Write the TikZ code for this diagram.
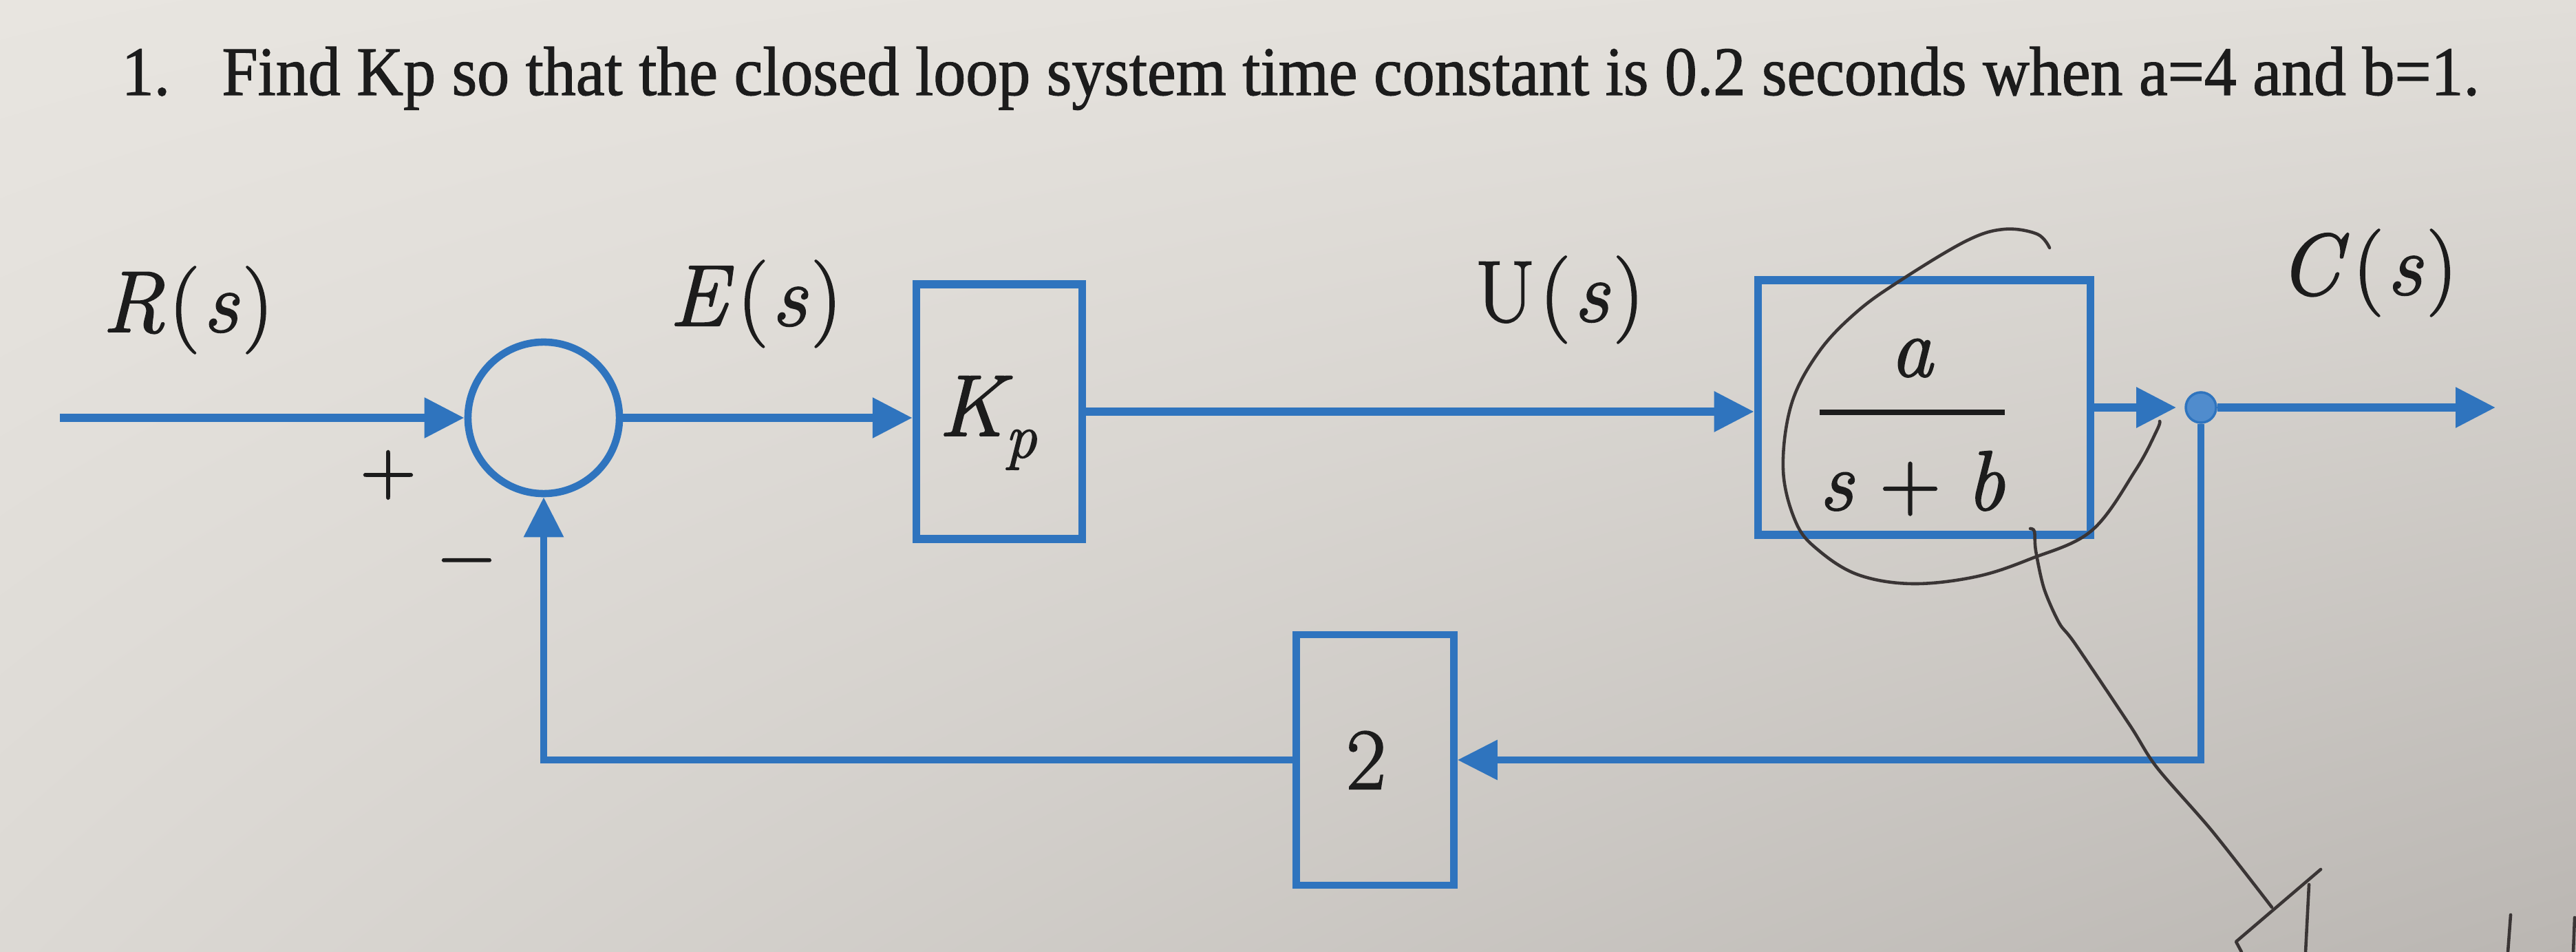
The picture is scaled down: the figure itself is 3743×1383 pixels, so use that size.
\RequirePackage{fix-cm}
\documentclass[tikz,border=0pt]{standalone}
\usepackage{fontspec}
\setmainfont{Liberation Serif}
\newfontfamily\titlefont[FakeBold=1.2]{Liberation Serif}
\newfontfamily\labfont[FakeBold=1.6]{Latin Modern Roman}
\usepackage{graphicx}
\usetikzlibrary{arrows.meta,shadings}
\newcommand\itl[1]{{\itshape #1\/}}
\newcommand\sigl[2]{#1\kern0.05em(\kern0.04em\itl{#2}\kern0.04em)}
\definecolor{blu}{RGB}{47,116,190}
\definecolor{dotc}{RGB}{80,140,205}
\definecolor{ink}{RGB}{28,28,28}
\definecolor{penc}{RGB}{58,53,53}
\definecolor{bgTL}{RGB}{232,229,224}
\definecolor{bgTR}{RGB}{225,222,217}
\definecolor{bgBL}{RGB}{220,217,212}
\definecolor{bgBR}{RGB}{186,182,178}
\begin{document}
\begin{tikzpicture}[x=0.01cm,y=-0.01cm,
  sig/.style={draw=blu, line width=3.4pt},
  fbk/.style={draw=blu, line width=2.8pt},
  arr/.style={-{Triangle[length=0.58cm,width=0.56cm]}},
  blockbox/.style={draw=blu, line width=3.2pt, inner sep=0pt, rectangle},
  lab/.style={font=\labfont\fontsize{36}{42}\selectfont, text=ink, inner sep=0pt},
  pen/.style={draw=penc, line width=1.3pt, line cap=round, line join=round}]
\useasboundingbox (0,0) rectangle (3743,1383);
\shade[upper left=bgTL, upper right=bgTR, lower left=bgBL, lower right=bgBR] (0,0) rectangle (3743,1383);

% title
\node[anchor=base west, inner sep=0pt, text=ink] (title) at (176,138)
  {\resizebox{34.24cm}{0.70cm}{\titlefont\fontsize{29}{34}\selectfont 1.\hspace{0.8em}Find Kp so that the closed loop system time constant is 0.2 seconds when a=4 and b=1.}};

% blocks
\node[circle, draw=blu, line width=3pt, minimum size=2.2cm, inner sep=0pt] (sum) at (790,607) {};
\node[blockbox, minimum width=2.41cm, minimum height=3.70cm] (kp) at (1452,598) {};
\node[blockbox, minimum width=4.83cm, minimum height=3.70cm] (plant) at (2796,592) {};
\node[blockbox, line width=3pt, minimum width=2.29cm, minimum height=3.64cm] (fb) at (1998,1104) {};
\node[circle, fill=dotc, draw=blu, line width=1pt, minimum size=0.44cm, inner sep=0pt] (dot) at (3198,592) {};
\coordinate (in) at (87,607);
\coordinate (out) at (3626,592);

% labels
\node[lab, anchor=base] (Rl) at (273,482) {\sigl{\itl{R}}{s}};
\node[lab, anchor=base] (El) at (1098,473) {\sigl{\itl{E}}{s}};
\node[lab, anchor=base] (Ul) at (2266,467) {\sigl{U}{s}};
\node[lab, anchor=base] (Cl) at (3441,428) {\sigl{\itl{C}}{s}};
\node[lab, font=\labfont\fontsize{32}{38}\selectfont, anchor=base] (plus) at (564,718) {+};
\node[lab, font=\labfont\fontsize{32}{38}\selectfont, anchor=base] (minus) at (678,842) {−};
\node[lab, font=\labfont\fontsize{36}{42}\selectfont, anchor=base] (kpl) at (1435,633) {\itl{K}\kern-0.08em\raisebox{-0.25em}{\fontsize{26}{30}\selectfont\itl{p}}};
\node[lab, font=\labfont\fontsize{35}{42}\selectfont, anchor=base] (gl) at (2778,630) {$\displaystyle{\hbox{\itl{a}}\above 2.2pt \rule{0pt}{0.93em}\hbox{\itl{s}\ +\ \itl{b}}}$};
\node[lab, anchor=base] (twol) at (1985,1146) {2};

% connectors
\draw[sig,arr] (in) -- (sum.west);
\draw[sig,arr] (sum.east) -- (sum.east -| kp.west);
\draw[sig,arr] (kp.east) -- (kp.east -| plant.west);
\draw[sig,arr,shorten >=0.12cm] (plant.east) -- (dot.west);
\draw[sig,arr] (dot.east) -- (out);
\draw[fbk,arr] (dot.south) -- (dot |- fb.east) -- (fb.east);
\draw[fbk,arr] (fb.west) -- (fb.west -| sum.south) -- (sum.south);

% hand-drawn pen marks
\draw[pen] plot[smooth, tension=0.6] coordinates {(2978,360) (2960,340) (2912,333) (2857,350) (2762,407) (2698,453) (2643,511) (2603,587) (2591,683) (2610,760) (2643,800) (2700,835) (2778,848) (2870,838) (2950,812) (3039,771) (3103,683) (3134,625) (3138,612)};
\draw[pen] plot[smooth, tension=0.5] coordinates {(2950,768) (2956,772) (2958,800) (2970,855) (2992,905) (3015,935) (3095,1054) (3134,1115) (3214,1207) (3301,1318)};
\draw[pen] (3372,1263) -- (3249,1368) -- (3257,1383);
\draw[pen] (3355,1285) -- (3350,1383);
\draw[pen] (3648,1329) -- (3644,1383);
\draw[pen] (3741,1333) -- (3739,1383);
\end{tikzpicture}
\end{document}
